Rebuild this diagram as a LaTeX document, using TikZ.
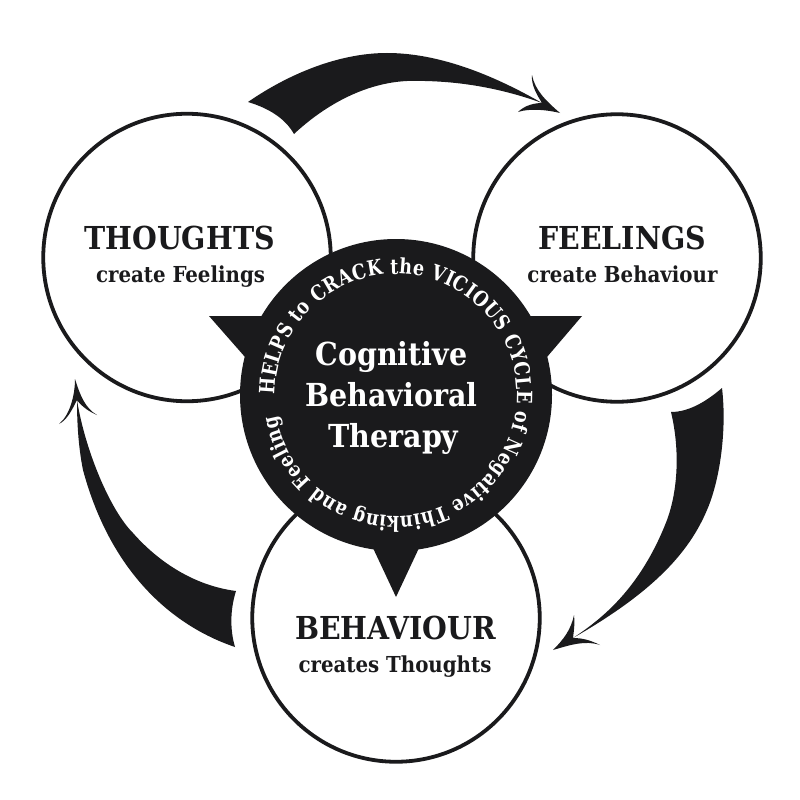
\documentclass[tikz,border=0pt]{standalone}
\usepackage{fontspec}
\setmainfont{DejaVu Serif Condensed}
\newfontfamily\ringfont{DejaVu Serif Condensed}[FakeStretch=0.93]
\usetikzlibrary{decorations.text}
\definecolor{ink}{HTML}{1A1A1C}
\tikzset{
  ring/.style={circle,draw=ink,line width=3.8pt,fill=white,minimum size=287.5pt,inner sep=0pt},
  hub/.style={circle,fill=ink,minimum size=312pt,inner sep=0pt},
  bigword/.style={font=\bfseries\fontsize{31.6}{32}\selectfont,text=ink,inner sep=0pt,anchor=base},
  smallword/.style={font=\bfseries\fontsize{22}{22}\selectfont,text=ink,inner sep=0pt,anchor=base},
  hubword/.style={font=\bfseries\fontsize{31.7}{32}\selectfont,text=white,inner sep=0pt,anchor=base},
  swoosh/.style={fill=ink,draw=none}
}
\begin{document}
\begin{tikzpicture}[x=1pt,y=1pt]
\useasboundingbox (0,0) rectangle (800,-800);
\fill[white] (0,0) rectangle (800,-800);
% rings
\node[ring] (thoughts) at (187,-257.5) {};
\node[ring] (feelings) at (617,-258) {};
\node[ring] (behaviour) at (396,-618) {};
% hub with points
\fill[ink] (209,-316) -- (290,-316) -- (270,-380) -- (245,-357) -- cycle;
\fill[ink] (582,-316) -- (500,-316) -- (520,-380) -- (547,-357) -- cycle;
\fill[ink] (396,-597) -- (373,-548) -- (419,-548) -- cycle;
\node[hub] (hub) at (396,-395) {};
% arrows
\path[swoosh] (248,-102) .. controls (290,-73) and (340,-53) .. (387,-53)
  .. controls (440,-53) and (495,-76) .. (542,-103)
  .. controls (537,-95) and (531,-85) .. (532,-75)
  .. controls (535,-90) and (545,-100) .. (560,-113)
  .. controls (548,-110) and (530,-108) .. (518,-112)
  .. controls (525,-105) and (535,-103) .. (542,-103)
  .. controls (495,-86) and (450,-80) .. (407,-81)
  .. controls (365,-83) and (325,-105) .. (294,-134)
  .. controls (285,-118) and (268,-108) .. (248,-102) -- cycle;
\path[swoosh] (722,-388) .. controls (727,-430) and (720,-480) .. (707,-510)
  .. controls (690,-550) and (657,-590) .. (573,-638)
  .. controls (574,-630) and (575,-622) .. (574,-615)
  .. controls (571,-630) and (563,-640) .. (553,-650)
  .. controls (570,-645) and (585,-640) .. (600,-645)
  .. controls (590,-640) and (582,-638) .. (573,-638)
  .. controls (600,-620) and (640,-590) .. (667,-520)
  .. controls (678,-490) and (680,-450) .. (671,-412)
  .. controls (690,-412) and (708,-400) .. (722,-388) -- cycle;
\path[swoosh] (235,-647) .. controls (170,-625) and (110,-570) .. (83,-470)
  .. controls (78,-445) and (77,-420) .. (77,-400)
  .. controls (72,-410) and (67,-420) .. (59,-424)
  .. controls (70,-415) and (75,-395) .. (75,-379)
  .. controls (80,-395) and (85,-408) .. (97,-415)
  .. controls (90,-412) and (82,-407) .. (77,-400)
  .. controls (85,-450) and (110,-510) .. (133,-533)
  .. controls (155,-558) and (190,-585) .. (236,-591)
  .. controls (230,-610) and (230,-630) .. (235,-647) -- cycle;
% ring labels
\node[bigword] (thoughtsT) at (179.5,-249) {THOUGHTS};
\node[smallword] (thoughtsS) at (180.5,-282) {create Feelings};
\node[bigword] (feelingsT) at (622,-249) {FEELINGS};
\node[smallword] (feelingsS) at (622.5,-282) {create Behaviour};
\node[bigword] (behaviourT) at (395.5,-639.5) {BEHAVIOUR};
\node[smallword] (behaviourS) at (395,-672) {creates Thoughts};
% hub labels
\node[hubword] (hubA) at (391.5,-365.5) {Cognitive};
\node[hubword] (hubB) at (391.5,-406.5) {Behavioral};
\node[hubword] (hubC) at (393.5,-447.5) {Therapy};
% ring text
\path[postaction={decorate,decoration={text along path,text align={fit to path},
   text={|\ringfont\bfseries\fontsize{21}{21}\selectfont\color{white}|HELPS to CRACK the VICIOUS CYCLE of Negative Thinking and Feeling}}}]
   (hub.center) ++(180:121) arc (180:-170:121);
\end{tikzpicture}
\end{document}
